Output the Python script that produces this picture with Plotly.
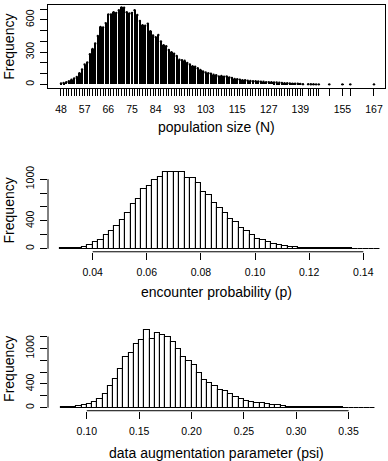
import numpy as np
import plotly.graph_objects as go

# ---------- data ----------
# Panel 1: population size N (frequency table)
n_values = list(range(48, 141)) + [142, 143, 144, 145, 146, 150, 155, 158, 167]
n_counts = [10, 13, 20, 30, 45, 55, 70, 105, 140, 185,
            205, 280, 330, 380, 450, 535, 530, 570, 650, 650,
            670, 665, 690, 715, 712, 670, 660, 665, 690, 645,
            590, 550, 545, 565, 495, 455, 440, 460, 400, 365,
            355, 320, 300, 285, 265, 230, 225, 220, 200, 185,
            170, 165, 150, 135, 120, 111, 105, 100, 90, 85,
            75, 78, 72, 75, 65, 60, 52, 48, 45, 40,
            40, 35, 33, 30, 30, 28, 25, 25, 22, 22,
            20, 18, 18, 16, 15, 12, 12, 10, 8, 7,
            6, 5, 3,
            3, 2, 2, 1, 1, 1, 1, 1, 1]
n_labels = [48, 57, 66, 75, 84, 93, 103, 115, 127, 139, 155, 167]
n_yticks = [0, 100, 200, 300, 400, 500, 600, 700]
n_ylabels = ["0", "", "", "300", "", "", "600", ""]

# Panel 2: encounter probability p (histogram, bin width 0.002 from 0.028)
p_bin_start = 0.028
p_bin_width = 0.002
p_counts = [2, 3, 5, 10, 22, 50, 90, 120, 190, 250,
            330, 410, 510, 635, 720, 850, 895, 990, 1035, 1100,
            1100, 1100, 1100, 1008, 1008, 950, 810, 770, 660, 590,
            510, 430, 380, 300, 257, 200, 143, 120, 90, 62,
            57, 43, 24, 19, 14, 10, 7, 5, 4, 3,
            3, 2, 2, 2, 1, 1, 1, 1, 1]
p_xticks = [0.04, 0.06, 0.08, 0.10, 0.12, 0.14]
p_xlabels = ["0.04", "0.06", "0.08", "0.10", "0.12", "0.14"]
p_yticks = [0, 200, 400, 600, 800, 1000]
p_ylabels = ["0", "", "400", "", "", "1000"]

# Panel 3: data augmentation parameter psi (histogram, bin width 0.005 from 0.075)
psi_bin_start = 0.075
psi_bin_width = 0.005
psi_counts = [5, 5, 10, 22, 40, 62, 100, 140, 230, 358,
              475, 655, 860, 920, 1073, 1140, 1308, 1163, 1258, 1224,
              1196, 1100, 985, 860, 783, 720, 576, 458, 420, 369,
              290, 274, 229, 179, 145, 117, 100, 78, 78, 56,
              50, 39, 22, 17, 15, 10, 8, 7, 5, 4,
              3, 3, 2, 2, 1, 1, 1, 1, 1, 1]
psi_xticks = [0.10, 0.15, 0.20, 0.25, 0.30, 0.35]
psi_xlabels = ["0.10", "0.15", "0.20", "0.25", "0.30", "0.35"]
psi_yticks = [0, 200, 400, 600, 800, 1000, 1200]
psi_ylabels = ["0", "", "400", "", "", "1000", ""]

# ---------- layout helpers ----------
W, H = 388, 461
FONT = "Liberation Sans, Arial, Helvetica, sans-serif"
TICK_SIZE = 10.5
TITLE_SIZE = 14


def px_x(px):
    return px / W


def px_y(py):
    return 1 - py / H


xdom = [px_x(48), px_x(385)]
dom1 = [px_y(86), px_y(2)]
dom2 = [px_y(250.4), px_y(167.2)]
dom3 = [px_y(410.4), px_y(326.2)]

fig = go.Figure()

# Panel 1 bars (type "h" style lines)
fig.add_trace(go.Bar(x=n_values, y=n_counts, width=0.85,
                     marker=dict(color="black", line=dict(width=0)),
                     xaxis="x", yaxis="y", hoverinfo="x+y"))
fig.add_trace(go.Scatter(x=n_values, y=n_counts, mode="markers",
                         marker=dict(color="black", size=2.4),
                         xaxis="x", yaxis="y", hoverinfo="skip"))

# Panel 2 histogram
p_centers = p_bin_start + p_bin_width * (np.arange(len(p_counts)) + 0.5)
fig.add_trace(go.Bar(x=p_centers, y=p_counts, width=p_bin_width,
                     marker=dict(color="white", line=dict(color="black", width=1.1)),
                     xaxis="x2", yaxis="y2"))

# Panel 3 histogram
psi_centers = psi_bin_start + psi_bin_width * (np.arange(len(psi_counts)) + 0.5)
fig.add_trace(go.Bar(x=psi_centers, y=psi_counts, width=psi_bin_width,
                     marker=dict(color="white", line=dict(color="black", width=1.1)),
                     xaxis="x3", yaxis="y3"))

tickfont = dict(family=FONT, size=TICK_SIZE, color="black")
common_x = dict(ticks="outside", ticklen=7, tickwidth=1, tickcolor="black",
                tickfont=tickfont, showgrid=False, zeroline=False,
                ticklabelstandoff=4)
common_y = dict(ticks="outside", ticklen=7, tickwidth=1, tickcolor="black",
                tickfont=tickfont, showgrid=False, zeroline=False,
                tickangle=-90, ticklabelstandoff=2)

n_ticktext = [str(v) if v in n_labels else "" for v in n_values]

fig.update_layout(
    width=W, height=H, autosize=False,
    margin=dict(l=0, r=0, t=0, b=0),
    paper_bgcolor="white", plot_bgcolor="white",
    showlegend=False, bargap=0,
    font=dict(family=FONT, color="black"),
    xaxis=dict(domain=xdom, anchor="y", range=[43.06, 171.19],
               tickmode="array", tickvals=n_values, ticktext=n_ticktext,
               showline=True, linecolor="black", linewidth=1, mirror=True,
               **common_x),
    yaxis=dict(domain=dom1, anchor="x", range=[-37, 738],
               tickmode="array", tickvals=n_yticks, ticktext=n_ylabels,
               showline=True, linecolor="black", linewidth=1, mirror=True,
               **common_y),
    xaxis2=dict(domain=xdom, anchor="y2", range=[0.02348, 0.14802],
                tickmode="array", tickvals=p_xticks, ticktext=p_xlabels,
                showline=False, **common_x),
    yaxis2=dict(domain=dom2, anchor="x2", range=[-44, 1144],
                tickmode="array", tickvals=p_yticks, ticktext=p_ylabels,
                showline=False, **common_y),
    xaxis3=dict(domain=xdom, anchor="y3", range=[0.06294, 0.3848],
                tickmode="array", tickvals=psi_xticks, ticktext=psi_xlabels,
                showline=False, **common_x),
    yaxis3=dict(domain=dom3, anchor="x3", range=[-52, 1360],
                tickmode="array", tickvals=psi_yticks, ticktext=psi_ylabels,
                showline=False, **common_y),
)

# R-style axis lines spanning only the tick range (panels 2 and 3)
line_style = dict(color="black", width=1)
for xa, ya, xt, yt in [("x2", "y2", p_xticks, p_yticks),
                       ("x3", "y3", psi_xticks, psi_yticks)]:
    fig.add_shape(type="line", xref=xa, yref=f"{ya} domain",
                  x0=min(xt), x1=max(xt), y0=0, y1=0, line=line_style)
    fig.add_shape(type="line", xref=f"{xa} domain", yref=ya,
                  x0=0, x1=0, y0=min(yt), y1=max(yt), line=line_style)

# Axis titles
title_font = dict(family=FONT, size=TITLE_SIZE, color="black")
xc = (xdom[0] + xdom[1]) / 2
for text, py in [("population size (N)", 125),
                 ("encounter probability (p)", 290.5),
                 ("data augmentation parameter (psi)", 453)]:
    fig.add_annotation(text=text, xref="paper", yref="paper", x=xc, y=px_y(py),
                       xanchor="center", yanchor="middle", showarrow=False,
                       font=title_font)
for dom in [dom1, dom2, dom3]:
    fig.add_annotation(text="Frequency", xref="paper", yref="paper",
                       x=px_x(9), y=(dom[0] + dom[1]) / 2, textangle=-90,
                       xanchor="center", yanchor="middle", showarrow=False,
                       font=title_font)

fig.write_html(
    "out.html",
    config={"responsive": False, "displayModeBar": False},
    post_script="document.body.style.margin='0px';"
                "document.body.style.padding='0px';"
                "document.body.style.overflow='hidden';",
)
